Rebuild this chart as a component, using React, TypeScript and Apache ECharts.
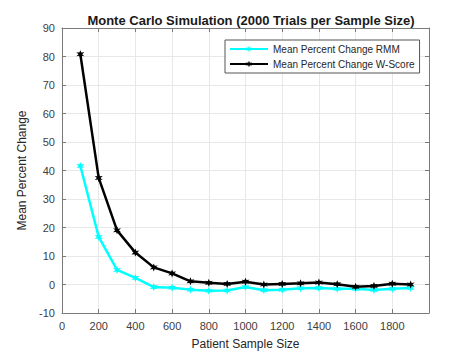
import React, { useEffect, useRef } from "react";
import * as echarts from "echarts";

const sampleSizes = [100, 200, 300, 400, 500, 600, 700, 800, 900, 1000, 1100, 1200, 1300, 1400, 1500, 1600, 1700, 1800, 1900];
const rmmValues = [41.6, 16.7, 5.1, 2.3, -0.9, -1.1, -1.8, -2.2, -2.1, -0.9, -2.0, -1.8, -1.3, -1.2, -1.5, -1.5, -1.9, -1.5, -1.2];
const wScoreValues = [80.8, 37.4, 19.0, 11.2, 6.0, 3.9, 1.1, 0.6, 0.2, 1.0, 0.0, 0.2, 0.4, 0.7, 0.1, -0.8, -0.5, 0.3, 0.0];
const seriesNames = ["Mean Percent Change RMM", "Mean Percent Change W-Score"];
const titleText = "Monte Carlo Simulation (2000 Trials per Sample Size)";
const xLabel = "Patient Sample Size";
const yLabel = "Mean Percent Change";

const starPath =
  "path://M50,0 L61,30 L93,25 L70,50 L93,75 L61,70 L50,100 L39,70 L7,75 L30,50 L7,25 L39,30 Z";

export default function App() {
  const ref = useRef<HTMLDivElement>(null);
  useEffect(() => {
    if (!ref.current) return;
    const chart = echarts.init(ref.current, undefined, { renderer: "svg" });
    const font = "Liberation Sans, Arial, sans-serif";
    const axisColor = "#7a7a7a";
    const labelColor = "#404040";
    chart.setOption({
      animation: false,
      backgroundColor: "#ffffff",
      title: {
        text: titleText,
        left: 246,
        textAlign: "center",
        top: 9,
        textStyle: { fontSize: 13, fontWeight: "bold", color: "#1a1a1a", fontFamily: font },
      },
      legend: {
        orient: "vertical",
        left: 225,
        top: 40,
        itemWidth: 38,
        itemHeight: 8,
        itemGap: 5,
        padding: [4, 5, 4, 4],
        borderColor: "#555",
        borderWidth: 1,
        backgroundColor: "#fff",
        textStyle: { fontSize: 10, color: "#262626", fontFamily: font },
        data: seriesNames,
      },
      grid: { left: 62, right: 45, top: 28, bottom: 40, containLabel: false },
      xAxis: [
        {
          type: "value",
          min: 0,
          max: 2000,
          interval: 200,
          name: xLabel,
          nameLocation: "middle",
          nameGap: 25,
          nameTextStyle: { fontSize: 12, color: "#262626", fontFamily: font },
          axisLine: { show: true, onZero: false, lineStyle: { color: axisColor } },
          axisTick: { show: true, inside: true, length: 4, lineStyle: { color: axisColor } },
          axisLabel: {
            fontSize: 11,
            color: labelColor,
            fontFamily: font,
            margin: 7,
            formatter: (v: number) => (v === 2000 ? "" : String(v)),
          },
          splitLine: { show: true, lineStyle: { color: "#e8e8e8" } },
        },
        {
          type: "value",
          position: "top",
          min: 0,
          max: 2000,
          interval: 200,
          axisLine: { show: true, onZero: false, lineStyle: { color: axisColor } },
          axisTick: { show: true, inside: true, length: 4, lineStyle: { color: axisColor } },
          axisLabel: { show: false },
          splitLine: { show: false },
        },
      ],
      yAxis: [
        {
          type: "value",
          min: -10,
          max: 90,
          interval: 10,
          name: yLabel,
          nameLocation: "middle",
          nameGap: 26,
          nameTextStyle: { fontSize: 12, color: "#262626", fontFamily: font },
          axisLine: { show: true, onZero: false, lineStyle: { color: axisColor } },
          axisTick: { show: true, inside: true, length: 4, lineStyle: { color: axisColor } },
          axisLabel: { fontSize: 11, color: labelColor, fontFamily: font, margin: 7 },
          splitLine: { show: true, lineStyle: { color: "#e8e8e8" } },
        },
        {
          type: "value",
          position: "right",
          min: -10,
          max: 90,
          interval: 10,
          axisLine: { show: true, onZero: false, lineStyle: { color: axisColor } },
          axisTick: { show: true, inside: true, length: 4, lineStyle: { color: axisColor } },
          axisLabel: { show: false },
          splitLine: { show: false },
        },
      ],
      series: [
        {
          name: seriesNames[0],
          type: "line",
          xAxisIndex: 0,
          yAxisIndex: 0,
          data: sampleSizes.map((x, i) => [x, rmmValues[i]]),
          symbol: starPath,
          symbolSize: 8,
          showAllSymbol: true,
          lineStyle: { color: "#00ffff", width: 2.5 },
          itemStyle: { color: "#00ffff" },
          z: 3,
        },
        {
          name: seriesNames[1],
          type: "line",
          xAxisIndex: 0,
          yAxisIndex: 0,
          data: sampleSizes.map((x, i) => [x, wScoreValues[i]]),
          symbol: starPath,
          symbolSize: 8,
          showAllSymbol: true,
          lineStyle: { color: "#000000", width: 2.5 },
          itemStyle: { color: "#000000" },
          z: 4,
        },
      ],
    });
    return () => chart.dispose();
  }, []);
  return (
    <div
      ref={ref}
      style={{ position: "fixed", left: 0, top: 0, width: 474, height: 355, background: "#fff" }}
    />
  );
}
